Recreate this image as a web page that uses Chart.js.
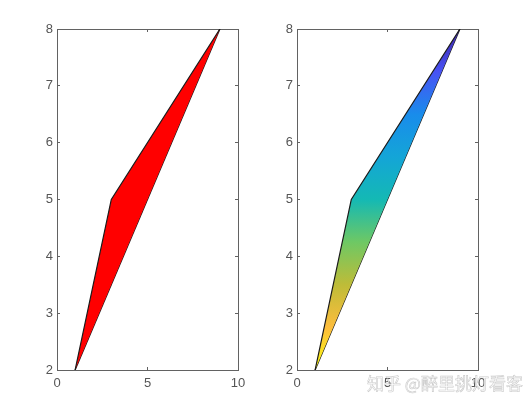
<!DOCTYPE html>
<html>
<head>
<meta charset="utf-8">
<script src="https://cdn.jsdelivr.net/npm/chart.js@4"></script>
<style>
  html, body { margin: 0; padding: 0; background: #fff; }
  #wrap { position: relative; width: 525px; height: 408px; overflow: hidden; }
  .box { position: absolute; top: 0; height: 408px; }
  #b1 { left: 0; width: 262px; }
  #b2 { left: 262px; width: 263px; }
  #wm { position: absolute; left: 367px; top: 373px; font-family: "Noto Sans CJK SC", sans-serif;
        font-size: 17px; line-height: 20px; color: rgba(255,255,255,0.8);
        -webkit-text-stroke: 0.6px rgba(150,150,150,0.5); white-space: pre; }
</style>
</head>
<body>
<div id="wrap">
  <div class="box" id="b1"><canvas id="c1"></canvas></div>
  <div class="box" id="b2"><canvas id="c2"></canvas></div>
  <div id="wm">知乎 @醉里挑灯看客</div>
</div>
<script>
// polygon vertices
const upperX = [1, 3, 9];
const upperY = [2, 5, 8];
const lowerX = [1, 9];
const lowerY = [2, 8];
// axis ticks
const xTicks = [0, 5, 10];
const yTicks = [2, 3, 4, 5, 6, 7, 8];
// reversed parula colormap stops (bottom -> top)
const cmapStops = [0, 0.125, 0.25, 0.375, 0.5, 0.625, 0.75, 0.875, 1];
const cmapColors = ['#f9fb0e', '#fdbd3c', '#bebc38', '#6ec864', '#14b9b4', '#14a5d7', '#198ceb', '#4852f4', '#3e26a8'];

const AX = '#626262';
const TXT = '#555555';
const FONT = { family: 'Liberation Sans, Arial, sans-serif', size: 13 };

function pts(xs, ys) { return xs.map((x, i) => ({ x: x, y: ys[i] })); }

function makeScales(leftW, rightW) {
  const grid = { drawOnChartArea: false, drawTicks: true, tickLength: -3, color: AX, lineWidth: 1 };
  const border = { display: true, color: AX, width: 1 };
  return {
    x: { type: 'linear', position: 'bottom', min: 0, max: 10,
         afterBuildTicks: s => { s.ticks = xTicks.map(v => ({ value: v })); },
         ticks: { color: TXT, font: FONT, padding: 9, maxRotation: 0 },
         grid: grid, border: border, afterFit: s => { s.height = 38; } },
    x2: { type: 'linear', position: 'top', min: 0, max: 10,
         afterBuildTicks: s => { s.ticks = xTicks.map(v => ({ value: v })); },
         ticks: { display: false }, grid: grid, border: border, afterFit: s => { s.height = 29; } },
    y: { type: 'linear', position: 'left', min: 2, max: 8,
         afterBuildTicks: s => { s.ticks = yTicks.map(v => ({ value: v })); },
         ticks: { color: TXT, font: FONT, padding: 7 },
         grid: grid, border: border, afterFit: s => { s.width = leftW; } },
    y2: { type: 'linear', position: 'right', min: 2, max: 8,
         afterBuildTicks: s => { s.ticks = yTicks.map(v => ({ value: v })); },
         ticks: { display: false }, grid: grid, border: border, afterFit: s => { s.width = rightW; } }
  };
}

function gradientFill(context) {
  const chart = context.chart;
  if (!chart.chartArea) return 'rgba(0,0,0,0)';
  const ys = chart.scales.y;
  const y0 = ys.getPixelForValue(lowerY[0]);
  const y1 = ys.getPixelForValue(upperY[upperY.length - 1]);
  const g = chart.ctx.createLinearGradient(0, y0, 0, y1);
  cmapStops.forEach((s, i) => g.addColorStop(s, cmapColors[i]));
  return g;
}

function makeChart(id, fillColor, leftW, rightW) {
  return new Chart(document.getElementById(id), {
    type: 'line',
    data: {
      datasets: [
        { data: pts(upperX, upperY), fill: '+1', backgroundColor: fillColor,
          borderColor: '#1a1a1a', borderWidth: 1.2, pointRadius: 0, tension: 0 },
        { data: pts(lowerX, lowerY), fill: false,
          borderColor: '#1a1a1a', borderWidth: 1.2, pointRadius: 0, tension: 0 }
      ]
    },
    options: {
      responsive: true, maintainAspectRatio: false, animation: false,
      layout: { padding: 0 },
      plugins: { legend: { display: false }, tooltip: { enabled: false }, filler: { propagate: false } },
      scales: makeScales(leftW, rightW)
    }
  });
}

makeChart('c1', '#ff0000', 57, 24);
makeChart('c2', gradientFill, 35, 47);
</script>
</body>
</html>
